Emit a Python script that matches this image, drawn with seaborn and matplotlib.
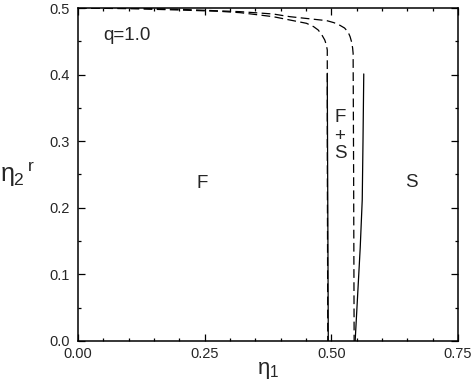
import numpy as np
import pandas as pd
import matplotlib
matplotlib.use("Agg")
import matplotlib.pyplot as plt
import seaborn as sns
from matplotlib.ticker import MultipleLocator

# ---- data ----
left_dash_x = [0.000, 0.100, 0.200, 0.280, 0.320, 0.385, 0.451, 0.465, 0.474, 0.481, 0.487, 0.490, 0.492, 0.492, 0.493]
left_dash_y = [0.500, 0.499, 0.497, 0.495, 0.493, 0.487, 0.477, 0.472, 0.467, 0.460, 0.452, 0.445, 0.437, 0.300, 0.000]

right_dash_x = [0.000, 0.100, 0.200, 0.320, 0.385, 0.418, 0.491, 0.505, 0.517, 0.526, 0.533, 0.537, 0.540, 0.542, 0.543, 0.544, 0.545]
right_dash_y = [0.500, 0.500, 0.498, 0.4945, 0.491, 0.487, 0.481, 0.478, 0.474, 0.470, 0.464, 0.457, 0.449, 0.440, 0.432, 0.250, 0.000]

left_solid_x = [0.492, 0.493, 0.494]
left_solid_y = [0.402, 0.200, 0.000]

right_solid_x = [0.564, 0.5625, 0.561, 0.557, 0.552, 0.547]
right_solid_y = [0.401, 0.300, 0.212, 0.140, 0.070, 0.000]

region_labels = ["F", "F", "+", "S", "S"]
region_x = [0.245, 0.517, 0.517, 0.517, 0.658]
region_y = [0.236, 0.336, 0.307, 0.281, 0.238]

x_ticks = [0.00, 0.25, 0.50, 0.75]
x_ticklabels = ["0.00", "0.25", "0.50", "0.75"]
y_ticks = [0.0, 0.1, 0.2, 0.3, 0.4, 0.5]
y_ticklabels = ["0.0", "0.1", "0.2", "0.3", "0.4", "0.5"]

sns.set_theme(style="ticks")
plt.rcParams["font.family"] = ["Liberation Sans", "DejaVu Sans"]
plt.rcParams["mathtext.fontset"] = "custom"
plt.rcParams["mathtext.rm"] = "Liberation Sans"
plt.rcParams["mathtext.it"] = "Liberation Sans"
plt.rcParams["mathtext.bf"] = "Liberation Sans:bold"

fig = plt.figure(figsize=(4.74, 3.84), dpi=100)
ax = fig.add_subplot(111)
fig.subplots_adjust(left=78/474, right=458/474, bottom=1-341/384, top=1-8/384)

lw = 0.9
dash = (0, (7, 3.5))
sns.lineplot(x=left_dash_x, y=left_dash_y, sort=False, estimator=None, ax=ax,
             color="black", lw=lw, linestyle=dash)
sns.lineplot(x=right_dash_x, y=right_dash_y, sort=False, estimator=None, ax=ax,
             color="black", lw=lw, linestyle=dash)
sns.lineplot(x=left_solid_x, y=left_solid_y, sort=False, estimator=None, ax=ax,
             color="black", lw=lw)
sns.lineplot(x=right_solid_x, y=right_solid_y, sort=False, estimator=None, ax=ax,
             color="black", lw=lw)

ax.set_xlim(0, 0.75)
ax.set_ylim(0, 0.5)
ax.set_xticks(x_ticks)
ax.set_xticklabels(x_ticklabels)
ax.set_yticks(y_ticks)
ax.set_yticklabels(y_ticklabels)
ax.xaxis.set_minor_locator(MultipleLocator(0.05))
ax.yaxis.set_minor_locator(MultipleLocator(0.05))
ax.tick_params(which="both", direction="in", top=True, right=True, color="black", width=0.9)
ax.tick_params(which="major", length=5)
ax.tick_params(which="minor", length=2.5)
ax.tick_params(axis="x", which="major", labelsize=10.5, pad=4)
ax.tick_params(axis="y", which="major", labelsize=10.5, pad=6)
for s in ax.spines.values():
    s.set_linewidth(1.1)
    s.set_color("black")

ax.set_xlabel(r"$\eta_1$", fontsize=16, va="center")
ax.xaxis.set_label_coords(0.5, -0.09)
ax.set_ylabel(r"$\eta_2{}^{\,r}$", fontsize=18, rotation=0, va="center", ha="center")
ax.yaxis.set_label_coords(-0.16, 0.5)

ax.text(0.049, 0.459, "q=1.0", fontsize=13.5, ha="left", va="center")
for lab, x, y in zip(region_labels, region_x, region_y):
    ax.text(x, y, lab, fontsize=13.5, ha="center", va="center")

fig.savefig("out.png", dpi=100)
